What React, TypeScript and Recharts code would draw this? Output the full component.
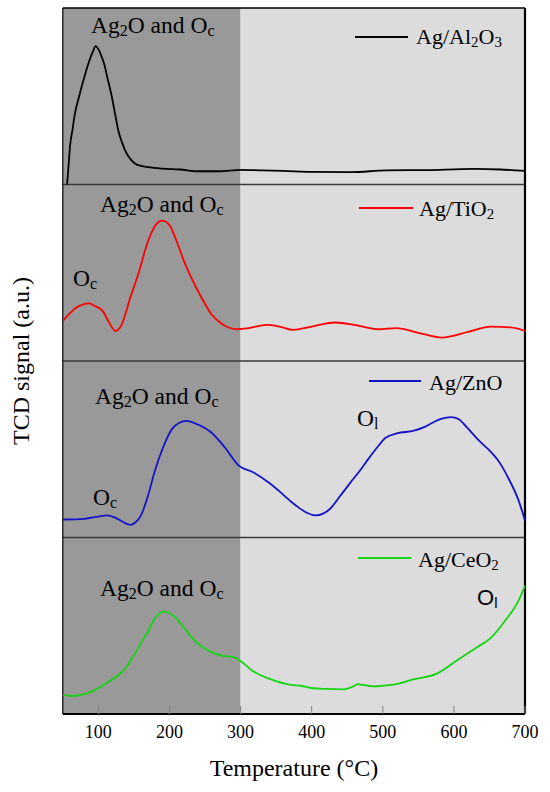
import React from "react";
import { LineChart, Line, XAxis, YAxis, ReferenceArea, ReferenceLine } from "recharts";

const TICKS = [100, 200, 300, 400, 500, 600, 700];

// temperatures (°C) and TCD signal (a.u., fraction of panel height)
const alTemp = [56, 58, 60, 64, 67, 73, 79, 86, 93, 96, 101, 105, 108, 113, 119, 124, 128, 134, 140, 146, 152, 160, 170, 190, 215, 240, 270, 300, 330, 360, 400, 455, 505, 560, 628, 665, 700];
const alSignal = [0, 0.1, 0.21, 0.32, 0.4, 0.5, 0.59, 0.686, 0.76, 0.784, 0.76, 0.72, 0.686, 0.6, 0.496, 0.39, 0.307, 0.23, 0.174, 0.14, 0.118, 0.105, 0.098, 0.09, 0.085, 0.075, 0.075, 0.083, 0.08, 0.077, 0.072, 0.07, 0.08, 0.082, 0.088, 0.085, 0.077];

const tiTemp = [50, 60, 68, 78, 87, 96, 106, 115, 124, 133, 145, 156, 170, 180, 190, 200, 210, 220, 231, 245, 259, 272, 283, 295, 310, 337, 355, 374, 400, 433, 460, 494, 519, 550, 583, 620, 652, 680, 700];
const tiSignal = [0.227, 0.27, 0.3, 0.32, 0.326, 0.31, 0.284, 0.22, 0.17, 0.208, 0.36, 0.49, 0.68, 0.767, 0.795, 0.77, 0.68, 0.57, 0.47, 0.36, 0.265, 0.215, 0.19, 0.18, 0.185, 0.205, 0.195, 0.176, 0.195, 0.218, 0.205, 0.18, 0.186, 0.16, 0.133, 0.165, 0.195, 0.19, 0.17];

const znTemp = [50, 80, 100, 112, 125, 136, 145, 152, 160, 170, 179, 190, 204, 214, 224, 240, 258, 278, 297, 317, 340, 361, 372, 381, 393, 406, 416, 426, 440, 455, 468, 480, 492, 504, 520, 544, 558, 570, 582, 596, 607, 618, 635, 652, 665, 677, 690, 700];
const znSignal = [0.102, 0.106, 0.118, 0.125, 0.11, 0.085, 0.072, 0.085, 0.125, 0.24, 0.371, 0.5, 0.617, 0.65, 0.661, 0.64, 0.598, 0.51, 0.409, 0.371, 0.31, 0.239, 0.2, 0.172, 0.14, 0.125, 0.135, 0.163, 0.235, 0.314, 0.38, 0.447, 0.51, 0.565, 0.59, 0.605, 0.625, 0.65, 0.672, 0.682, 0.67, 0.625, 0.55, 0.485, 0.42, 0.333, 0.22, 0.097];

const ceTemp = [50, 66, 80, 95, 115, 135, 148, 159, 170, 179, 186, 192, 200, 209, 222, 238, 258, 275, 290, 300, 317, 340, 371, 385, 401, 420, 445, 458, 465, 472, 485, 500, 519, 544, 576, 603, 632, 650, 672, 692, 700];
const ceSignal = [0.108, 0.102, 0.112, 0.135, 0.185, 0.244, 0.32, 0.396, 0.47, 0.538, 0.57, 0.58, 0.572, 0.544, 0.48, 0.405, 0.352, 0.33, 0.322, 0.3, 0.244, 0.2, 0.165, 0.16, 0.146, 0.142, 0.14, 0.155, 0.169, 0.165, 0.157, 0.16, 0.169, 0.197, 0.229, 0.3, 0.377, 0.424, 0.528, 0.651, 0.727];

// each sample is drawn in its own band of the shared y axis (0..4)
const SERIES = [
  { key: "al", name: "Ag/Al_2O_3", color: "#000000", temp: alTemp, signal: alSignal, band: 3 },
  { key: "ti", name: "Ag/TiO_2", color: "#ff0000", temp: tiTemp, signal: tiSignal, band: 2 },
  { key: "zn", name: "Ag/ZnO", color: "#1414c8", temp: znTemp, signal: znSignal, band: 1 },
  { key: "ce", name: "Ag/CeO_2", color: "#14d414", temp: ceTemp, signal: ceSignal, band: 0 },
];

const SERIF = "'Liberation Serif', Tinos, 'DejaVu Serif', 'Times New Roman', Times, serif";
const SANS = "'Liberation Sans', Arial, 'DejaVu Sans', sans-serif";
const SUB: React.CSSProperties = { fontSize: "0.68em", position: "relative", top: "0.2em" };

function Chem({ text }: { text: string }) {
  const parts: React.ReactNode[] = [];
  for (let i = 0; i < text.length; i++) {
    if (text[i] === "_") {
      parts.push(<span key={i} style={SUB}>{text[i + 1]}</span>);
      i++;
    } else {
      parts.push(text[i]);
    }
  }
  return <>{parts}</>;
}

function Note({ x, base, text, size = 23.5, family = SERIF }: { x: number; base: number; text: string; size?: number; family?: string }) {
  return (
    <div
      style={{
        position: "absolute",
        left: x,
        top: base - 0.84 * size,
        fontSize: size,
        lineHeight: `${size}px`,
        fontFamily: family,
        whiteSpace: "nowrap",
        color: "#000",
      }}
    >
      <Chem text={text} />
    </div>
  );
}

function LegendKey({ x1, x2, y, textX, base, color, text }: { x1: number; x2: number; y: number; textX: number; base: number; color: string; text: string }) {
  return (
    <>
      <div style={{ position: "absolute", left: x1, top: y - 1, width: x2 - x1, height: 2, background: color }} />
      <Note x={textX} base={base} text={text} size={22} />
    </>
  );
}

export default function App() {
  const lines = SERIES.map((s) => ({
    ...s,
    data: s.temp.map((t, i) => ({ t, v: s.signal[i] + s.band })),
  }));

  return (
    <div style={{ position: "absolute", left: 0, top: 0, width: 550, height: 792, background: "#fff", fontFamily: SERIF }}>
      <LineChart width={550} height={792} margin={{ top: 8, right: 25, bottom: 0, left: 0 }} style={{ fontFamily: SERIF }}>
        <XAxis
          dataKey="t"
          type="number"
          domain={[50, 700]}
          ticks={TICKS}
          allowDataOverflow
          height={78}
          axisLine={{ stroke: "#000", strokeWidth: 2 }}
          tickLine={{ stroke: "#808080", strokeWidth: 1 }}
          tickSize={-8}
          tickMargin={19}
          tick={{ fill: "#000", fontSize: 18, fontFamily: SERIF }}
          label={{ value: "Temperature (°C)", position: "insideBottom", offset: 16, fill: "#000", fontSize: 24, fontFamily: SERIF }}
        />
        <YAxis
          type="number"
          domain={[0, 4]}
          width={62.8}
          tick={false}
          axisLine={false}
          tickLine={false}
          label={{
            value: "TCD signal (a.u.)",
            angle: -90,
            position: "insideLeft",
            offset: 20,
            fill: "#000",
            fontSize: 24,
            fontFamily: SERIF,
            style: { textAnchor: "middle", fontFamily: SERIF },
          }}
        />
        <ReferenceArea x1={50} x2={300} y1={0} y2={4} fill="#999999" fillOpacity={1} stroke="none" />
        <ReferenceArea x1={300} x2={700} y1={0} y2={4} fill="#dcdcdc" fillOpacity={1} stroke="none" />
        <ReferenceLine y={1} stroke="#3a3a3a" strokeWidth={1.5} />
        <ReferenceLine y={2} stroke="#3a3a3a" strokeWidth={1.5} />
        <ReferenceLine y={3} stroke="#3a3a3a" strokeWidth={1.5} />
        <ReferenceLine y={4} stroke="#000" strokeWidth={1.5} />
        <ReferenceLine x={50} stroke="#000" strokeWidth={1.2} />
        <ReferenceLine x={700} stroke="#000" strokeWidth={2.2} />
        {lines.map((s) => (
          <Line
            key={s.key}
            data={s.data}
            dataKey="v"
            type="monotone"
            stroke={s.color}
            strokeWidth={1.8}
            dot={false}
            activeDot={false}
            isAnimationActive={false}
          />
        ))}
      </LineChart>

      <Note x={91} base={34} text="Ag_2O and O_c" />
      <LegendKey x1={355} x2={408} y={37} textX={416} base={44} color={SERIES[0].color} text={SERIES[0].name} />

      <Note x={100} base={213} text="Ag_2O and O_c" />
      <Note x={73} base={287} text="O_c" />
      <LegendKey x1={359} x2={413} y={208} textX={419} base={216} color={SERIES[1].color} text={SERIES[1].name} />

      <Note x={95} base={405} text="Ag_2O and O_c" />
      <Note x={93} base={506} text="O_c" />
      <Note x={357} base={427} text="O_l" />
      <LegendKey x1={369} x2={421} y={381} textX={429} base={390} color={SERIES[2].color} text={SERIES[2].name} />

      <Note x={100} base={597} text="Ag_2O and O_c" />
      <Note x={477} base={605} text="O_l" size={22} family={SANS} />
      <LegendKey x1={358} x2={411} y={558} textX={418} base={567} color={SERIES[3].color} text={SERIES[3].name} />
    </div>
  );
}
